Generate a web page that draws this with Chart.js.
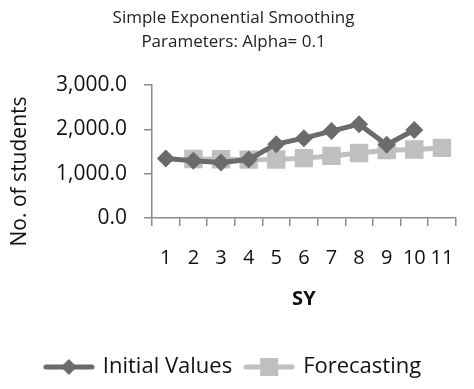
<!DOCTYPE html>
<html><head><meta charset="utf-8">
<script src="https://cdn.jsdelivr.net/npm/chart.js@4/dist/chart.umd.min.js"></script>
<style>html,body{margin:0;padding:0;background:#fff;}#c{display:block;}</style>
</head><body>
<canvas id="c" width="474" height="389"></canvas>
<script>
const categories = ['1','2','3','4','5','6','7','8','9','10','11'];
const initialValues = [1340, 1290, 1250, 1320, 1665, 1800, 1960, 2115, 1650, 1985, null];
const forecasting = [null, 1330, 1325, 1315, 1320, 1350, 1400, 1465, 1530, 1545, 1580];
const yTicks = [0, 1000, 2000, 3000];
const yTitle = 'No. of students';

const FONT = "'Open Sans', Lato, sans-serif";
const darkC = '#6b6b6b', lightC = '#bfbfbf';

function legendImg(color, style){
  const cv = document.createElement('canvas');
  cv.width = 52; cv.height = 20;
  const g = cv.getContext('2d');
  g.strokeStyle = color; g.lineWidth = 5; g.lineCap = 'round';
  g.beginPath(); g.moveTo(3, 10); g.lineTo(49, 10); g.stroke();
  g.fillStyle = color;
  if (style === 'diamond') {
    g.beginPath(); g.moveTo(26, 2); g.lineTo(34, 10); g.lineTo(26, 18); g.lineTo(18, 10); g.closePath(); g.fill();
  } else {
    g.fillRect(17, 1, 18, 18);
  }
  return cv;
}
const legImgs = [legendImg(darkC, 'diamond'), legendImg(lightC, 'square')];

// y-axis title, placed lower than the plot centre as in the reference
const yTitlePlugin = {
  id: 'yTitle',
  afterDraw(chart) {
    const ctx = chart.ctx;
    const a = chart.chartArea;
    ctx.save();
    ctx.translate(20, (a.top + a.bottom) / 2 + 20);
    ctx.rotate(-Math.PI / 2);
    ctx.font = "21px " + FONT;
    ctx.fillStyle = '#111';
    ctx.textAlign = 'center';
    ctx.textBaseline = 'middle';
    ctx.fillText(yTitle, 0, 0);
    ctx.restore();
  }
};

new Chart(document.getElementById('c'), {
  type: 'line',
  data: {
    labels: categories,
    datasets: [
      { label: 'Initial Values', data: initialValues, borderColor: darkC, backgroundColor: darkC,
        borderWidth: 5, pointStyle: 'rectRot', pointRadius: 9, pointBorderWidth: 0, tension: 0 },
      { label: 'Forecasting', data: forecasting, borderColor: lightC, backgroundColor: lightC,
        borderWidth: 5, pointStyle: 'rect', pointRadius: 13, pointBorderWidth: 0, tension: 0 }
    ]
  },
  plugins: [yTitlePlugin],
  options: {
    responsive: false, animation: false,
    layout: { padding: { left: 7, right: 14, top: 0, bottom: 1 } },
    plugins: {
      title: { display: true, text: ['Simple Exponential Smoothing', 'Parameters: Alpha= 0.1'],
        color: '#222', font: { family: FONT, size: 17, weight: 'normal', lineHeight: 1.41 }, padding: { top: 6, bottom: 31 } },
      legend: { position: 'bottom', labels: {
        color: '#111', font: { family: FONT, size: 22 }, usePointStyle: true, pointStyleWidth: 46, boxHeight: 20, padding: 14,
        generateLabels: (chart) => chart.data.datasets.map((d, i) => ({
          text: d.label, pointStyle: legImgs[i], fillStyle: 'transparent', strokeStyle: 'transparent', lineWidth: 0, datasetIndex: i, fontColor: '#111'
        }))
      } },
      tooltip: { enabled: false }
    },
    scales: {
      x: { offset: true,
        afterFit: (s) => { s.height = 124; },
        grid: { display: true, drawOnChartArea: false, offset: true, color: '#8c8c8c', tickLength: 8, lineWidth: 1.5 },
        border: { color: '#8c8c8c', width: 1.5 },
        ticks: { color: '#111', font: { family: FONT, size: 20 }, padding: 20, maxRotation: 0, autoSkip: false },
        title: { display: true, text: 'SY', color: '#111', font: { family: FONT, size: 20, weight: 'bold' }, padding: { top: 0, bottom: 31 } }
      },
      y: { min: 0, max: 3000,
        afterFit: (s) => { s.width = 145; },
        afterBuildTicks: (s) => { s.ticks = yTicks.map(v => ({ value: v })); },
        grid: { display: true, drawOnChartArea: false, color: '#8c8c8c', tickLength: 8, lineWidth: 1.5 },
        border: { color: '#8c8c8c', width: 1.5 },
        ticks: { color: '#111', font: { family: FONT, size: 21 }, padding: 17,
          callback: (v) => Number(v).toLocaleString('en-US', { minimumFractionDigits: 1, maximumFractionDigits: 1 }) },
        title: { display: false }
      }
    }
  }
});
</script>
</body></html>
